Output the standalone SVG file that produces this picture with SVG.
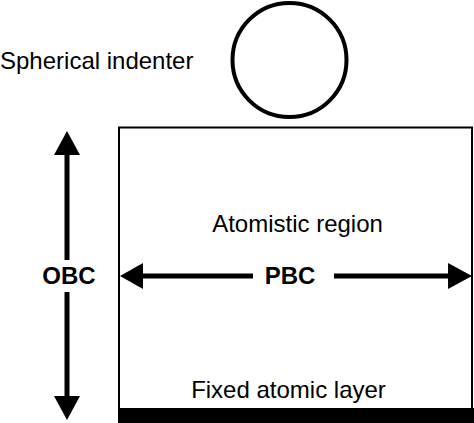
<svg xmlns="http://www.w3.org/2000/svg" width="474" height="423" viewBox="0 0 474 423">
<style>
.t{font-family:"Liberation Sans",Arial,sans-serif;font-size:24px;fill:#000}
.b{font-weight:bold}
.ln{stroke:#000;stroke-width:5;fill:none}
</style>
<rect width="474" height="423" fill="#fff"/>
<g id="indenter">
<circle cx="289.5" cy="60" r="57" fill="#fff" stroke="#000" stroke-width="4"/>
<text class="t" x="0" y="69">Spherical indenter</text>
</g>
<g id="region">
<rect x="119" y="127.5" width="353" height="282" fill="#fff" stroke="#000" stroke-width="2"/>
<text class="t" x="297.5" y="232" text-anchor="middle">Atomistic region</text>
</g>
<g id="fixed-layer">
<rect x="118" y="408" width="356" height="15" fill="#000"/>
<text class="t" x="288.5" y="398" text-anchor="middle">Fixed atomic layer</text>
</g>
<g id="connectors">
<line class="ln" x1="67" y1="153" x2="67" y2="260"/>
<polygon points="67,131 54,155 80,155"/>
<line class="ln" x1="67" y1="292" x2="67" y2="398"/>
<polygon points="67,420 54,396 80,396"/>
<text class="t b" x="69" y="284" text-anchor="middle">OBC</text>
<line class="ln" x1="141" y1="276" x2="253" y2="276"/>
<polygon points="120,276 143,263 143,289"/>
<line class="ln" x1="334" y1="276" x2="450" y2="276"/>
<polygon points="472,276 448,263 448,289"/>
<text class="t b" x="290" y="284" text-anchor="middle">PBC</text>
</g>
</svg>
